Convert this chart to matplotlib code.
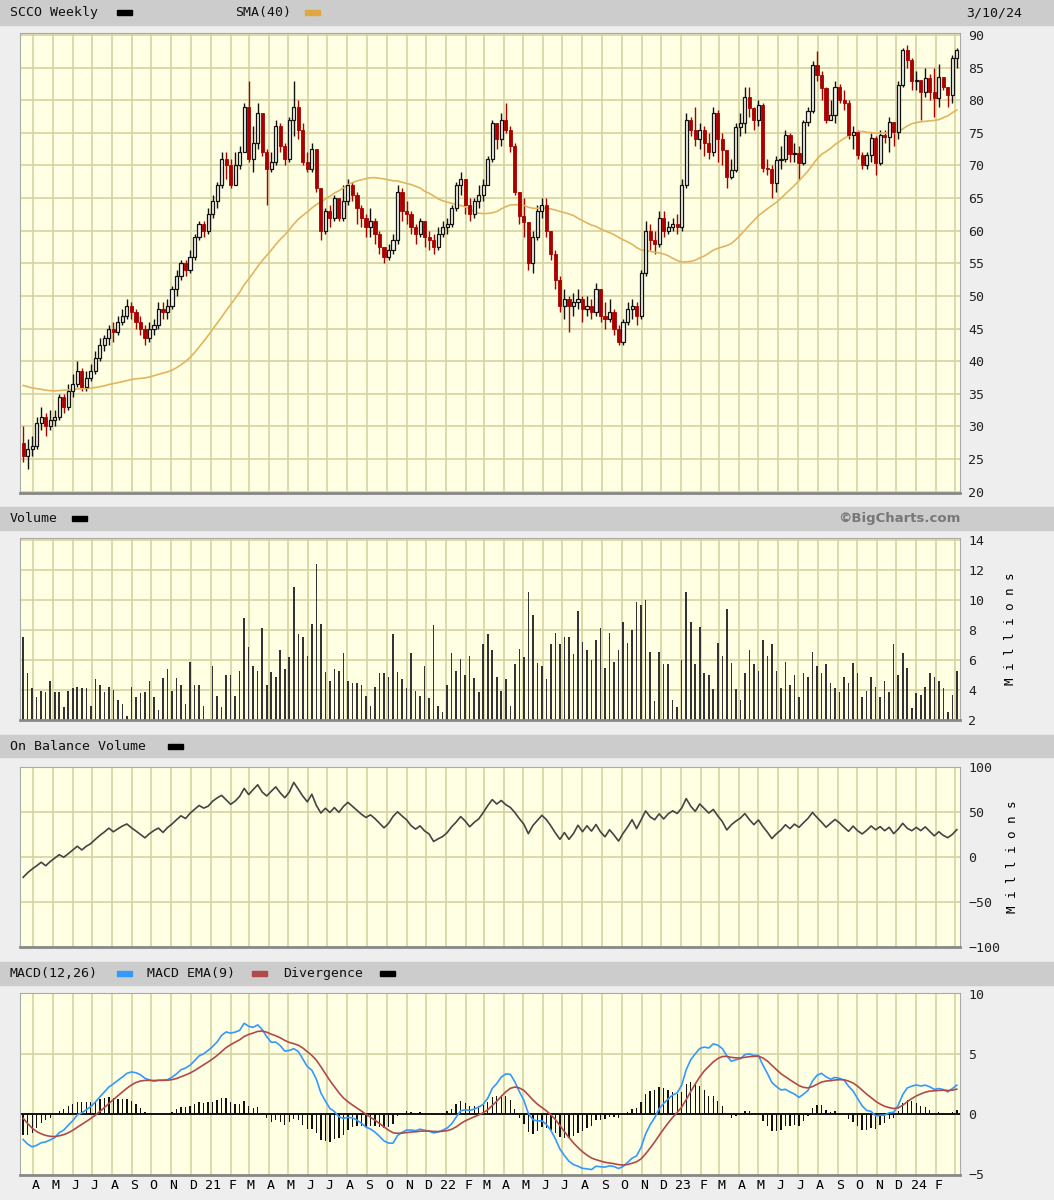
import matplotlib

matplotlib.use("Agg")

import matplotlib.pyplot as plt
import numpy as np
import pandas as pd
from matplotlib.patches import Rectangle

plt.rcParams["font.family"] = ["DejaVu Sans Mono", "DejaVu Sans"]

# weekly closes before the visible window (feed the SMA / MACD)
pre_close = [33.5, 34, 35, 34.5, 36, 35, 34, 33, 32.5, 31.5, 33, 34, 35, 34.5, 36, 37, 36.5, 37.5,
             38, 37, 39, 40, 41, 41.5, 41, 42, 42.5, 40.5, 39, 38, 39.5, 40, 41, 40, 38.5, 37,
             34, 31, 29, 27.5]

close = [
    25.5, 26.5, 27.0,
    30.5, 31.5, 30.0, 31.0,
    31.5, 34.5, 33.0, 35.5,
    36.5, 38.5, 36.0, 37.5, 38.5,
    40.5, 42.5, 43.5, 45.0,
    44.5, 46.0, 47.0, 48.5, 47.5,
    46.0, 45.0, 43.5, 45.0,
    45.5, 48.0, 47.5, 48.5,
    51.0, 53.0, 55.0, 54.0, 56.0,
    59.0, 61.0, 60.0, 62.5,
    64.5, 67.0, 71.0, 70.0,
    67.0, 70.0, 72.0, 79.0,
    71.0, 73.5, 78.0, 72.0, 69.5,
    70.5, 76.0, 73.0, 71.0,
    77.0, 79.0, 75.5, 70.5, 69.5,
    72.5, 66.5, 60.0, 63.0,
    62.0, 65.0, 62.0, 64.5,
    67.0, 65.5, 63.5, 62.0, 60.5,
    61.5, 59.5, 57.5, 56.0,
    57.0, 58.5, 66.0, 63.0,
    62.5, 60.5, 59.5, 61.5, 59.0,
    58.5, 57.5, 59.5, 60.5,
    61.0, 63.5, 67.0, 68.0, 64.0,
    62.5, 64.5, 65.5, 67.0,
    71.0, 76.5, 74.0,
    77, 75.5, 73, 66, 62.2, 61.4, 55, 59, 63, 64,
    60, 56.5, 52.5, 48.5, 49.5, 48.5, 49, 49.5, 48, 48.5,
    47.5, 51, 47, 46.5, 47.5, 45, 43, 46, 48, 48.5,
    47, 53.5, 60, 58.5, 58, 62, 60, 60.5, 61, 60.5,
    67, 77, 75.5, 74, 75.5, 73.5, 72, 78, 74, 72.4,
    68.3, 69.3, 75.9, 76.5, 80.5, 78.8, 77, 79.3, 69.6, 69.5,
    67.3, 70.9, 71, 74.7, 71.8, 71.9, 70.4, 76.7, 78.3, 85.4,
    83.9, 81.8, 77, 77.8, 82.1, 80, 79.5, 74.7, 75.2, 71.6,
    70.1, 71.6, 74.2, 70.4, 74.7, 74.4, 76.7, 75.2, 82.3, 87.7,
    86.2, 82.9, 83.1, 81.3, 83.4, 81.3, 80.3, 83.6, 82.1, 80.8,
    86.4, 87.7,
]

high = [
    30, 28, 28.5,
    31.5, 33, 32, 32.5,
    32.5, 35, 35, 36.5,
    38, 40, 39, 38.5, 39.5,
    41.5, 43.5, 44, 45.5,
    46, 47, 48, 49.5, 49,
    48, 47, 45.5, 46,
    46.5, 49, 49, 49.5,
    51.5, 54, 55.5, 55.5, 57,
    59.5, 61.5, 61.5, 63.5,
    65.5, 67.5, 72, 72,
    71, 72, 73, 79.5,
    83, 76, 79.5, 78, 72.5,
    72, 77, 76.5, 73.5,
    77.5, 83, 80, 76.5, 72,
    73.5, 72.5, 66.5, 63.5,
    64, 65.5, 65, 67,
    68, 67.5, 66, 64, 62.5,
    63.5, 62, 60, 57.5,
    58, 59.5, 67, 66.5,
    64.5, 63, 61, 62, 61.5,
    60, 59.5, 60.5, 61.5,
    62, 64, 67.5, 69, 68,
    65, 65, 67, 68,
    71.5, 77, 76.5,
    78, 79.5, 76, 73.5, 66, 65, 61, 60, 64, 65,
    65, 60, 57, 53, 51, 50, 50.5, 51, 50, 50,
    49.5, 52, 51, 49, 49.5, 48, 45.5, 46.5, 49, 49.5,
    49, 54, 61.5, 61, 60, 63, 63, 61.5, 62, 62.5,
    68, 78, 77.5, 79, 76.5, 76, 75, 79, 78.5, 75,
    72, 71, 76.5, 78, 82, 82, 79, 80, 79.5, 71,
    70, 71.5, 73, 75.5, 75, 73.5, 73, 77, 79, 86,
    87.5, 84.5, 82, 80, 83, 82.5, 81.5, 80, 76, 75.5,
    72, 72, 75, 74.5, 75.5, 75.5, 77.5, 76.5, 83, 88,
    88.5, 86.5, 84.5, 83, 85, 84, 85, 85.5, 83.5, 82,
    87, 88,
]

low = [
    24.5, 23.5, 25.5,
    26.5, 29.5, 28.5, 29.5,
    30, 31, 32, 32.5,
    34.5, 36, 35.5, 35.5, 37,
    38, 40, 41.5, 42.5,
    43, 44, 45.5, 46.5, 46.5,
    45, 44, 42.5, 43,
    44, 45, 46.5, 46.5,
    48, 50, 52.5, 53, 53.5,
    55.5, 58.5, 59, 59.5,
    62, 63.5, 66.5, 68,
    66.5, 67, 69.5, 72,
    70.5, 69, 72.5, 71.5, 64,
    69, 70, 72, 70,
    70.5, 74.5, 74, 70, 69,
    69, 66, 58.5, 59.5,
    60.5, 61.5, 61.5, 61.5,
    64, 64.5, 61, 60.5, 59,
    59, 58, 56.5, 55,
    55.5, 56.5, 58, 61.5,
    61, 59.5, 58, 59, 57.5,
    57, 56.5, 57, 59,
    59.5, 60.5, 63, 65.5, 62.5,
    61.5, 62, 63.5, 64.5,
    67, 70.5, 72.5,
    73, 75, 72, 65.5, 61, 59, 54, 53.5, 58.5, 62,
    59, 55.5, 51, 47.5, 46.5, 44.5, 47, 48, 46, 47,
    46.5, 47, 46, 45, 46, 44, 42.5, 42.5, 45.5, 46.5,
    45.5, 46.5, 53, 57, 56.5, 57.5, 59, 59.5, 60, 59.5,
    60, 66.5, 74.5, 73, 72.5, 71.5, 71, 71.5, 70.5, 70,
    66.5, 68, 69, 74.5, 75, 77.5, 75.5, 76, 69, 68.5,
    65, 66, 69.5, 70.5, 70.5, 70.5, 68, 70, 76, 78,
    83, 80, 76.5, 77, 76.5, 79.5, 78.5, 74, 72.5, 71,
    69.5, 69.5, 70.5, 68.5, 70, 73.5, 72, 73, 74, 82,
    85, 81.5, 81.5, 77, 80.5, 80, 77.5, 79, 81.5, 79,
    79.5, 85,
]

# weekly volume, millions of shares
volume = [
    7.56, 5.11, 4.11, 3.56, 3.93, 3.84, 4.6, 3.84, 3.84, 2.89,
    3.93, 4.11, 4.22, 4.11, 4.11, 2.96, 4.71, 4.33, 3.84, 4.22,
    4.0, 3.33, 3.04, 2.29, 4.22, 3.56, 3.78, 3.84, 4.6, 3.56,
    2.67, 4.82, 5.4, 3.93, 4.82, 4.33, 3.04, 5.89, 4.33, 4.33,
    2.96, 2.07, 5.6, 3.62, 2.89, 5.0, 5.0, 3.62, 5.29, 8.82,
    6.87, 5.6, 5.29, 8.11, 4.33, 5.22, 4.89, 6.67, 5.4, 6.18,
    10.87, 7.73, 7.56, 6.29, 8.42, 12.42, 8.42, 5.22, 4.62, 5.4,
    5.29, 6.49, 4.62, 4.44, 4.44, 4.33, 3.62, 2.96, 4.22, 5.11,
    5.11, 4.89, 7.73, 5.22, 4.71, 4.16, 6.49, 3.93, 3.62, 5.6,
    3.44, 8.33, 2.96, 2.56, 4.33, 6.49, 5.29, 6.09, 5.0, 6.29,
    4.82, 3.84, 7.07, 7.73, 6.67, 4.89,
    3.93, 4.71, 2.96, 5.71, 6.76, 6.18, 10.56, 9.0, 5.78, 5.6,
    4.71, 7.07, 7.82, 7.07, 7.56, 7.56, 6.38, 9.29, 7.24, 6.67,
    5.98, 7.33, 8.16, 5.49, 7.82, 5.89, 6.67, 8.51, 7.16, 8.04,
    9.89, 9.71, 10.0, 6.56, 3.27, 6.56, 5.71, 5.71, 3.33, 2.89,
    5.98, 10.56, 8.51, 5.71, 8.22, 5.11, 5.0, 4.04, 7.16, 6.29,
    9.4, 5.78, 4.04, 3.33, 5.11, 6.67, 5.71, 5.29, 7.33, 6.29,
    7.07, 5.29, 4.16, 5.89, 4.33, 5.0, 3.56, 5.11, 4.89, 6.56,
    5.6, 5.11, 5.71, 4.44, 4.16, 3.84, 4.89, 4.44, 5.78, 5.11,
    3.56, 3.93, 4.89, 4.22, 3.56, 4.6, 3.84, 7.07, 5.0, 6.49,
    5.49, 2.78, 3.78, 3.67, 4.22, 5.11, 4.89, 4.6, 4.16, 2.51,
    3.67, 5.29,
]

month_letters = ["J", "F", "M", "A", "M", "J", "J", "A", "S", "O", "N", "D"]

n = len(close)
dates = pd.date_range("2020-03-16", periods=n, freq="W-MON")
idx = np.arange(n)

all_close = pd.Series(pre_close + close)
open_ = np.array([pre_close[-1]] + close[:-1])
c = np.array(close)
hi = np.array(high)
lo = np.array(low)
sma40 = all_close.rolling(40, min_periods=1).mean().to_numpy()[len(pre_close):]
ema12 = all_close.ewm(span=12, adjust=False).mean()
ema26 = all_close.ewm(span=26, adjust=False).mean()
macd_all = ema12 - ema26
signal_all = macd_all.ewm(span=9, adjust=False).mean()
macd = macd_all.to_numpy()[len(pre_close):]
signal = signal_all.to_numpy()[len(pre_close):]
diverg = macd - signal

vol = np.array(volume)
direction = np.sign(np.diff(np.concatenate([[pre_close[-1]], c])))
obv = np.cumsum(direction * vol) - 15

# month starts as fractional week positions
months = pd.date_range("2020-04-01", "2024-03-01", freq="MS")
month_pos = (months - dates[0]).days / 7.0
month_lab = [str(m.year)[2:] if m.month == 1 else month_letters[m.month - 1] for m in months]

W, H = 1054, 1200
fig = plt.figure(figsize=(W / 100, H / 100), dpi=100, facecolor="#eeeeee")

FACE = "#ffffe3"
GRID = "#d5d2a0"
L, R = 20, 960


def add_axes(top, bottom):
    ax = fig.add_axes([L / W, 1 - bottom / H, (R - L) / W, (bottom - top) / H])
    ax.set_facecolor(FACE)
    ax.set_xlim(-0.7, n - 0.3)
    for xp in month_pos:
        ax.axvline(xp, color=GRID, lw=1.2, zorder=0)
    ax.yaxis.tick_right()
    ax.tick_params(axis="y", length=0, labelsize=9.5, pad=6, colors="#222222")
    ax.tick_params(axis="x", length=0)
    ax.set_xticks([])
    for s in ax.spines.values():
        s.set_color("#aaaaaa")
    ax.spines["bottom"].set_color("#888888")
    ax.spines["bottom"].set_linewidth(2)
    return ax


def header(top, bottom, items):
    fig.patches.append(Rectangle((0, 1 - bottom / H), 1, (bottom - top) / H,
                                 transform=fig.transFigure, color="#cccccc", zorder=0))
    yc = 1 - (top + bottom) / 2 / H
    for x, text, sw, col in items:
        fig.text(x / W, yc, text, fontsize=9.5, va="center", color="#111111")
        fig.patches.append(Rectangle((sw / W, yc - 2.5 / H), 15 / W, 5 / H,
                                     transform=fig.transFigure, color=col, zorder=3))
    return yc


# header bars
yc = header(0, 25, [(10, "SCCO Weekly", 117, "#000000"), (235, "SMA(40)", 305, "#e0a840")])
fig.text(1022 / W, yc, "3/10/24", fontsize=9.5, va="center", ha="right", color="#111111")
yc = header(507, 530, [(10, "Volume", 72, "#000000")])
fig.text(960 / W, yc, "©BigCharts.com", fontsize=9.5, va="center", ha="right",
         color="#777777", fontweight="bold", family="DejaVu Sans")
header(735, 757, [(10, "On Balance Volume", 168, "#000000")])
header(962, 985, [(10, "MACD(12,26)", 117, "#3399ff"), (147, "MACD EMA(9)", 252, "#b04a4a"),
                  (283, "Divergence", 380, "#000000")])

# price panel
ax = add_axes(33, 493)
ax.set_ylim(19.8, 90.3)
ax.set_yticks(range(20, 91, 5))
for yv in range(20, 91, 5):
    ax.axhline(yv, color=GRID, lw=1.2, zorder=0)
up = c >= open_
wick_col = np.where(up, "#111111", "#aa0000")
ax.vlines(idx, lo, hi, colors=wick_col, lw=1.0, zorder=2)
body_bot = np.minimum(open_, c)
body_h = np.maximum(np.abs(c - open_), 0.15)
ax.bar(idx[up], body_h[up], bottom=body_bot[up], width=0.7, color="#f4f4f0",
       edgecolor="#111111", linewidth=0.9, zorder=3)
ax.bar(idx[~up], body_h[~up], bottom=body_bot[~up], width=0.7, color="#aa0000",
       edgecolor="#aa0000", linewidth=0.6, zorder=3)
ax.plot(idx, sma40, color="#e3b460", lw=1.2, zorder=2)

# volume panel
ax = add_axes(538, 720)
ax.set_ylim(2, 14.15)
ax.set_yticks(range(2, 15, 2))
for yv in range(4, 15, 2):
    ax.axhline(yv, color=GRID, lw=1.2, zorder=0)
ax.bar(idx, vol - 2, bottom=2, width=0.35, color="#333333", zorder=2)
ax.set_ylabel("M i l l i o n s", fontsize=9, rotation=90, labelpad=14)
ax.yaxis.set_label_position("right")

# on balance volume panel
ax = add_axes(767, 947)
ax.set_ylim(-100, 100)
ax.set_yticks([-100, -50, 0, 50, 100])
for yv in [-50, 0, 50]:
    ax.axhline(yv, color=GRID, lw=1.2, zorder=0)
ax.plot(idx, obv, color="#444444", lw=1.2, zorder=2)
ax.set_ylabel("M i l l i o n s", fontsize=9, rotation=90, labelpad=4)
ax.yaxis.set_label_position("right")

# MACD panel
ax = add_axes(993, 1175)
ax.set_ylim(-5.1, 10.1)
ax.set_yticks([-5, 0, 5, 10])
ax.axhline(5, color=GRID, lw=1.2, zorder=0)
ax.axhline(0, color="#111111", lw=1.4, zorder=2)
ax.bar(idx, diverg, width=0.3, color="#111111", zorder=2)
ax.plot(idx, macd, color="#3399ff", lw=1.2, zorder=3)
ax.plot(idx, signal, color="#b04a4a", lw=1.2, zorder=3)
keep = month_pos < n - 2
ax.set_xticks(month_pos[keep] + 0.5)
ax.set_xticklabels([lab for lab, k in zip(month_lab, keep) if k], fontsize=9.5)
ax.tick_params(axis="x", pad=3)

fig.savefig("out.png", dpi=100, facecolor=fig.get_facecolor())
